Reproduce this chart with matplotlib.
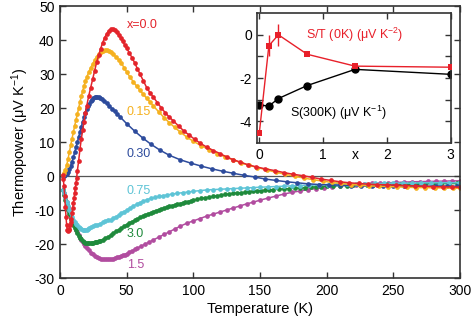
import matplotlib
matplotlib.use("Agg")
import matplotlib.pyplot as plt
from matplotlib.ticker import FixedLocator, FixedFormatter

plt.rcParams['font.family'] = ['Liberation Sans', 'DejaVu Sans']
plt.rcParams['axes.unicode_minus'] = False
plt.rcParams['mathtext.fontset'] = 'custom'
plt.rcParams['mathtext.rm'] = 'Liberation Sans'
plt.rcParams['mathtext.it'] = 'Liberation Sans'

# ---------------- main panel data ----------------
T_x000 = [2, 2.5, 3, 3.5, 4, 4.5, 5, 5.5, 6, 6.5, 7, 7.5, 8, 8.5, 9, 9.5, 10, 10.5, 11, 11.5,
          12, 12.5, 13, 14, 15, 16, 17, 18, 19, 20, 21.5, 23, 24.5, 26, 27.5, 29, 30.5, 32,
          33.5, 35, 36.5, 38, 39.5, 41, 42.5, 44, 45.5, 47, 48.5, 50, 52, 54, 56, 58, 60,
          62.5, 65, 67.5, 70, 73, 76, 79, 82, 85, 89, 93, 97, 101, 105, 110, 115, 120, 125,
          130, 135, 141, 147, 154, 161, 168, 175, 182, 189, 196, 203, 210, 217, 224, 231,
          238, 245, 252, 259, 266, 273, 280, 287, 294, 300]
S_x000 = [0.3, -1, -3, -6, -9, -12, -14.5, -16, -16.3, -16, -15.5, -14.5, -13.5, -12.5, -11,
          -9.5, -8, -6.5, -5, -3.5, -2, -0.5, 1.5, 4.5, 8, 11, 13.5, 16, 18.5, 20.5, 23.5, 26,
          28.5, 31, 33.5, 35.5, 37.5, 39.2, 40.7, 41.8, 42.7, 43.2, 43.3, 43, 42.4, 41.6, 40.6,
          39.6, 38.6, 37.6, 36.2, 34.8, 33.3, 31.6, 30, 28, 26, 24.5, 23.2, 21.6, 20, 18.6,
          17.3, 16.2, 14.7, 13.2, 12, 10.8, 9.7, 8.5, 7.5, 6.6, 5.6, 4.8, 4.1, 3.3, 2.7, 2.1,
          1.6, 1.0, 0.5, 0.1, -0.4, -0.9, -1.3, -1.7, -2.0, -2.2, -2.4, -2.5, -2.6, -2.7, -2.8,
          -2.9, -3.0, -3.1, -3.2, -3.2, -3.3]

T_x015 = [2, 3, 4, 5, 6, 7, 8, 9, 10, 11, 12, 13, 14, 15, 16, 17, 18, 19, 20, 21.5, 23, 24.5,
          26, 27.5, 29, 30.5, 32, 33.5, 35, 36.5, 38, 40, 42, 44, 46, 48, 50, 52.5, 55, 57.5,
          60, 62.5, 65, 67.5, 70, 74, 78, 82, 86, 90, 95, 100, 106, 112, 118, 124, 130, 136,
          142, 148, 155, 162, 169, 176, 183, 190, 197, 204, 211, 218, 225, 232, 239, 246, 253,
          260, 267, 274, 281, 288, 295, 300]
S_x015 = [0.3, 0.8, 1.8, 3.2, 5, 7, 9, 11, 12.8, 14.8, 16.5, 18.2, 20, 21.8, 23.5, 25, 26.5,
          27.8, 29, 30.5, 31.8, 33, 34, 35, 35.8, 36.4, 36.8, 37, 37, 36.8, 36.4, 35.8, 35,
          34.2, 33.2, 31.9, 30.6, 29.1, 27.7, 26.4, 25.2, 24.0, 22.9, 21.8, 20.6, 18.9, 17.2,
          15.7, 14.3, 13, 11.5, 10.2, 8.9, 7.7, 6.6, 5.6, 4.7, 3.9, 3.1, 2.5, 1.8, 1.1, 0.5,
          -0.1, -0.6, -1.1, -1.5, -1.9, -2.2, -2.5, -2.7, -2.9, -3.0, -3.1, -3.2, -3.3, -3.4,
          -3.4, -3.5, -3.5, -3.6, -3.6]

T_x030 = [2, 3, 4, 5, 6, 7, 8, 9, 10, 11, 12, 13, 14, 15, 16, 17, 18, 19, 20, 21, 22, 23, 24,
          25, 26, 27, 28, 29, 30, 31.5, 33, 35, 37, 39, 41, 43, 45, 50, 56, 62, 68, 75, 82, 90,
          98, 106, 114, 122, 130, 138, 146, 154, 162, 170, 178, 186, 194, 202, 210, 218, 226,
          234, 242, 250, 258, 266, 274, 282, 290, 298]
S_x030 = [0, 0.1, 0.3, 0.7, 1.3, 2, 3, 4.2, 5.5, 7, 8.5, 10, 11.5, 13, 14.5, 16, 17.3, 18.5,
          19.6, 20.5, 21.3, 22, 22.5, 22.9, 23.2, 23.3, 23.3, 23.2, 23, 22.6, 22.1, 21.4, 20.6,
          19.8, 19, 18.2, 17.4, 15.4, 13.2, 11.2, 9.4, 7.6, 6.1, 4.8, 3.8, 2.9, 2.1, 1.4, 0.8,
          0.2, -0.3, -0.9, -1.3, -1.7, -2.0, -2.3, -2.5, -2.6, -2.7, -2.8, -2.9, -2.9, -3.0,
          -3.0, -3.0, -3.0, -3.0, -3.0, -3.0, -3.0]

T_x075 = [2, 3, 4, 5, 6, 7, 8, 9, 10, 11, 12, 13, 14, 15, 16, 17, 18, 19, 20, 21, 22, 23.5, 25,
          26.5, 28, 30, 32, 34, 36, 38, 40, 42, 44, 46, 48, 50, 52.5, 55, 57.5, 60, 62.5, 65,
          68, 71, 74, 77, 80, 84, 88, 92, 96, 100, 105, 110, 115, 120, 125, 130, 135, 140,
          145, 150, 156, 162, 168, 174, 180, 187, 194, 201, 208, 215, 222, 229, 236, 243, 250,
          257, 264, 271, 278, 285, 292, 299]
S_x075 = [-4, -5, -6.2, -7.5, -8.8, -10, -11, -12, -12.8, -13.5, -14, -14.5, -15, -15.3, -15.6,
          -15.8, -15.9, -15.9, -15.8, -15.6, -15.4, -15.1, -14.8, -14.5, -14.3, -14, -13.6,
          -13.2, -12.8, -12.8, -12.4, -12, -11.5, -11, -10.5, -10, -9.4, -8.8, -8.3, -7.8,
          -7.4, -7.0, -6.6, -6.3, -6.0, -5.8, -5.6, -5.3, -5.1, -4.9, -4.7, -4.5, -4.3, -4.1,
          -4.0, -3.9, -3.8, -3.7, -3.6, -3.5, -3.4, -3.3, -3.2, -3.1, -3.0, -2.9, -2.8, -2.7,
          -2.6, -2.5, -2.4, -2.4, -2.3, -2.3, -2.2, -2.2, -2.1, -2.1, -2.1, -2.0, -2.0, -2.0,
          -2.0, -2.0]

T_x30 = [2, 3, 4, 5, 6, 7, 8, 9, 10, 11, 12, 13, 14, 15, 16, 17, 18, 19, 20, 21, 22, 23, 24,
         25, 26, 27, 28, 29, 30, 32, 34, 36, 38, 40, 42, 44, 46, 48, 50, 52, 54, 56, 58, 60,
         62, 64, 66, 68, 70, 72, 74, 76, 78, 80, 82, 84, 86, 88, 90, 92, 94, 96, 98, 100, 103,
         106, 109, 112, 115, 118, 121, 124, 127, 130, 133, 136, 139, 142, 145, 148, 151, 154,
         157, 160, 164, 168, 172, 176, 180, 184, 188, 192, 196, 200, 205, 210, 215, 220, 225,
         230, 235, 240, 245, 250, 256, 262, 268, 274, 280, 286, 292, 298]
S_x30 = [-4, -5.5, -7, -8.5, -10, -11.3, -12.5, -13.5, -14.5, -15.3, -16, -16.8, -17.5, -18.1,
         -18.6, -19, -19.4, -19.6, -19.7, -19.8, -19.8, -19.8, -19.7, -19.6, -19.5, -19.4,
         -19.3, -19.1, -19, -18.7, -18.3, -17.9, -17.4, -16.8, -16.3, -15.8, -15.3, -14.8,
         -14.3, -13.8, -13.4, -13.0, -12.6, -12.2, -11.8, -11.4, -11.1, -10.8, -10.5, -10.2,
         -9.9, -9.6, -9.4, -9.1, -8.9, -8.7, -8.5, -8.3, -8.1, -7.9, -7.7, -7.5, -7.3, -7.1,
         -6.9, -6.6, -6.4, -6.2, -6.0, -5.8, -5.6, -5.4, -5.3, -5.1, -5.0, -4.9, -4.8, -4.6,
         -4.5, -4.4, -4.3, -4.2, -4.1, -4.0, -3.9, -3.8, -3.7, -3.6, -3.5, -3.4, -3.3, -3.2,
         -3.1, -3.0, -2.9, -2.85, -2.8, -2.7, -2.65, -2.6, -2.55, -2.5, -2.45, -2.4, -2.4,
         -2.35, -2.3, -2.3, -2.3, -2.25, -2.25, -2.2]

T_x15 = [2, 3, 4, 5, 6, 7, 8, 9, 10, 11, 12, 13, 14, 15, 16, 17, 18, 19, 20, 21.5, 23, 24.5,
         26, 27.5, 29, 30.5, 32, 33.5, 35, 36.5, 38, 39.5, 41, 42.5, 44, 45.5, 47, 48.5, 50,
         52, 54, 56, 58, 61, 64, 67, 70, 74, 78, 82, 86, 90, 95, 100, 105, 110, 115, 120,
         125, 130, 135, 140, 145, 150, 156, 162, 168, 174, 180, 186, 192, 198, 204, 210, 216,
         222, 228, 234, 240, 246, 252, 258, 264, 270, 276, 282, 288, 294, 300]
S_x15 = [-4, -5, -6.2, -7.5, -9, -10.5, -12, -13, -14, -15, -15.8, -16.6, -17.4, -18.1, -18.8,
         -19.5, -20.1, -20.7, -21.2, -21.9, -22.5, -23.0, -23.4, -23.8, -24.1, -24.3, -24.4,
         -24.5, -24.5, -24.5, -24.4, -24.3, -24.1, -23.9, -23.7, -23.5, -23.3, -23.1, -22.8,
         -22.4, -22.0, -21.6, -21.2, -20.6, -20.0, -19.4, -18.8, -18.0, -17.2, -16.4, -15.6,
         -14.8, -13.9, -13.2, -12.5, -11.8, -11.2, -10.6, -10.0, -9.4, -8.8, -8.2, -7.7, -7.1,
         -6.5, -5.9, -5.3, -4.8, -4.4, -4.0, -3.7, -3.4, -3.1, -2.9, -2.7, -2.5, -2.35, -2.2,
         -2.1, -2.0, -1.9, -1.8, -1.7, -1.65, -1.6, -1.55, -1.5, -1.45, -1.4]

series_labels = ['x=0.0', '0.15', '0.30', '0.75', '3.0', '1.5']
label_y = [44.5, 18.7, 6.4, -4.3, -17.2, -26.2]
label_x = [50, 50, 50, 50, 50, 50]
colors = ['#e3242b', '#f5b120', '#2d4b9c', '#5ec4d6', '#1f8a3c', '#b14c9f']

# ---------------- inset data ----------------
x_conc = [0.0, 0.15, 0.30, 0.75, 1.5, 3.0]
ST0 = [-4.55, -0.5, 0.0, -0.9, -1.45, -1.5]
ST0_err = [0, 0.5, 0.5, 0, 0, 0]
S300 = [-3.25, -3.3, -2.95, -2.35, -1.6, -1.83]

fig = plt.figure(figsize=(4.74, 3.23), dpi=100)
ax = fig.add_axes([0.1266, 0.1393, 0.8439, 0.8421])

series = [(T_x30, S_x30, 4), (T_x15, S_x15, 5), (T_x075, S_x075, 3),
          (T_x030, S_x030, 2), (T_x015, S_x015, 1), (T_x000, S_x000, 0)]
ax.axhline(0, color='#555555', lw=0.9, zorder=1)
for T, S, i in series:
    ax.plot(T, S, '-o', color=colors[i], ms=3.4, lw=1.1, mew=0, zorder=2 + (5 - i) * 0.1)

for i in range(6):
    ax.text(label_x[i], label_y[i], series_labels[i], color=colors[i], fontsize=9,
            ha='left', va='center')

ax.set_xlim(0, 300)
ax.set_ylim(-30, 50)
ax.set_xticks([0, 50, 100, 150, 200, 250, 300])
ax.set_yticks([-30, -20, -10, 0, 10, 20, 30, 40, 50])
ax.tick_params(direction='in', top=True, right=True, length=4, width=1.0,
               labelsize=10, color='#333333', pad=4)
for sp in ax.spines.values():
    sp.set_linewidth(1.2)
    sp.set_color('#333333')
ax.set_xlabel('Temperature (K)', fontsize=10.5, labelpad=3)
ax.set_ylabel(r'Thermopower ($\mu$V K$^{-1}$)', fontsize=10.5, labelpad=2)

# ---------------- inset ----------------
ins = fig.add_axes([0.543, 0.558, 0.408, 0.401])
ins.errorbar(x_conc, ST0, yerr=ST0_err, fmt='-s', color='#e8202a', ms=4.5, lw=1.0,
             capsize=3, elinewidth=1.0, mew=0, zorder=3)
ins.plot(x_conc, S300, '-o', color='black', ms=5, lw=1.0, zorder=2)
ins.set_xlim(-0.03, 3.0)
ins.set_ylim(-5, 1)
ins.set_xticks([0, 1, 2, 3])
ins.xaxis.set_minor_locator(FixedLocator([1.5]))
ins.xaxis.set_minor_formatter(FixedFormatter(['x']))
ins.set_yticks([-4, -2, 0])
ins.yaxis.set_minor_locator(FixedLocator([-3, -1]))
ins.tick_params(which='both', direction='in', top=True, right=True, length=4, width=1.0,
                labelsize=10, color='#333333', pad=4)
ins.tick_params(axis='x', which='minor', length=0, top=False)
ins.tick_params(axis='y', which='minor', length=4)
for sp in ins.spines.values():
    sp.set_linewidth(1.2)
    sp.set_color('#333333')
ins.text(0.73, 0.0, r'S/T (0K) ($\mu$V K$^{-2}$)', color='#e8202a', fontsize=9,
         ha='left', va='center')
ins.text(0.48, -3.6, r'S(300K) ($\mu$V K$^{-1}$)', color='black', fontsize=9,
         ha='left', va='center')

fig.savefig('out.png', dpi=100)
